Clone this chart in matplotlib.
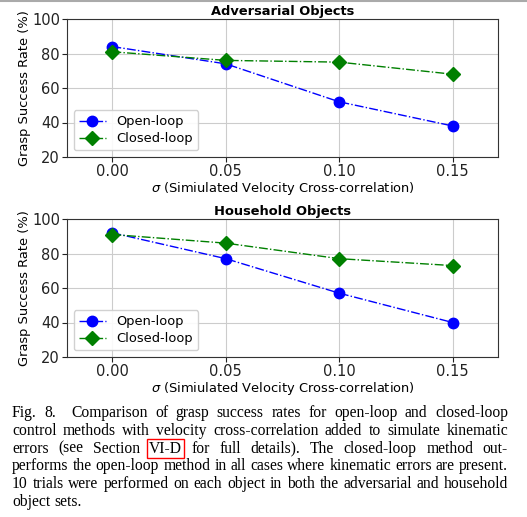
import matplotlib
matplotlib.use('Agg')
import matplotlib.pyplot as plt
import numpy as np

# data
sigma = [0.00, 0.05, 0.10, 0.15]
adv_open = [84, 74, 52, 38]
adv_closed = [81, 76, 75, 68]
house_open = [92, 77, 57, 40]
house_closed = [91, 86, 77, 73]
titles = ['Adversarial Objects', 'Household Objects']
xticks = [0.00, 0.05, 0.10, 0.15]
yticks = [20, 40, 60, 80, 100]

caption_lines = [
    'Fig. 8.  Comparison of grasp success rates for open-loop and closed-loop',
    'control methods with velocity cross-correlation added to simulate kinematic',
    'errors (see Section VI-D for full details). The closed-loop method out-',
    'performs the open-loop method in all cases where kinematic errors are present.',
    '10 trials were performed on each object in both the adversarial and household',
    'object sets.',
]

W, H = 527, 517
fig = plt.figure(figsize=(W / 100, H / 100), dpi=100)

# thin grey rule at the very top
fig.add_artist(plt.Line2D([0, 1], [1 - 1 / H, 1 - 1 / H], color='#aaaaaa', lw=1.5,
                          transform=fig.transFigure))

def panel(rect, title, op, cl):
    ax = fig.add_axes(rect)
    ax.plot(sigma, op, '-.', color='blue', marker='o', ms=7.5, lw=1, label='Open-loop')
    ax.plot(sigma, cl, '-.', color='green', marker='D', ms=7.5, lw=1, label='Closed-loop')
    ax.set_xlim(-0.02, 0.17)
    ax.set_ylim(20, 100)
    ax.set_xticks(xticks)
    ax.set_xticklabels(['%.2f' % t for t in xticks])
    ax.set_yticks(yticks)
    ax.grid(True, color='#cccccc', lw=0.8)
    ax.set_axisbelow(True)
    for s in ax.spines.values():
        s.set_color('#333333')
    ax.tick_params(labelsize=10.5, colors='#222222', length=3.5, pad=1.5)
    ax.set_title(title, fontsize=9.4, fontweight='bold', pad=3)
    ax.set_xlabel(r'$\sigma$ (Simiulated Velocity Cross-correlation)', fontsize=9.4, labelpad=0.5)
    ax.set_ylabel('Grasp Success Rate (%)', fontsize=9.4, labelpad=0.5)
    ax.legend(loc='lower left', fontsize=9.4, handlelength=2.1, borderpad=0.4,
              labelspacing=0.3, framealpha=0.9, edgecolor='#cccccc')
    return ax

panel([67 / W, 1 - 157 / H, 431 / W, 138 / H], titles[0], adv_open, adv_closed)
panel([67 / W, 1 - 357 / H, 431 / W, 138 / H], titles[1], house_open, house_closed)

# caption, justified word by word
fig.canvas.draw()
renderer = fig.canvas.get_renderer()
left, right = 12, 508
base0, step = 417, 17.8

# pick the font size so that the tightest line just fills the column
probe = fig.text(0, 0, caption_lines[3], fontsize=10, family='Liberation Serif')
natural = probe.get_window_extent(renderer).width
probe.remove()
fs = 10 * (right - left - 4) / natural

for i, line in enumerate(caption_lines):
    y = 1 - (base0 + i * step) / H
    items = [w for w in line.split(' ') if w]
    # gap weights: the space after "Fig. 8." is wider
    weights = [1.0] * (len(items) - 1)
    if i == 0:
        weights[1] = 2.0
    txts, widths = [], []
    for w in items:
        t = fig.text(0, y, w, fontsize=fs, family='Liberation Serif', va='baseline',
                     ha='left')
        txts.append(t)
        widths.append(t.get_window_extent(renderer).width)
    if i == len(caption_lines) - 1:
        unit = fs * 100 / 72 * 0.25
    else:
        unit = (right - left - sum(widths)) / sum(weights)
    x = left
    for j, (t, wd) in enumerate(zip(txts, widths)):
        t.set_x(x / W)
        if items[j] == 'VI-D':
            t.set_bbox(dict(boxstyle='square,pad=0.12', fc='none', ec='red', lw=1))
        if j < len(weights):
            x += wd + unit * weights[j]

fig.savefig('out.png', dpi=100)
